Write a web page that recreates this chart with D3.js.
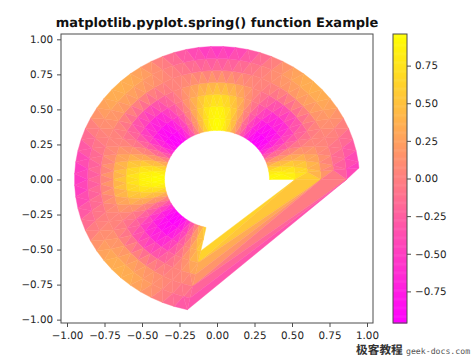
<!DOCTYPE html>
<html>
<head>
<meta charset="utf-8">
<script src="https://cdn.jsdelivr.net/npm/d3@7"></script>
<style>
  html, body { margin: 0; padding: 0; background: #fff; }
  text { font-family: "DejaVu Sans", sans-serif; text-rendering: geometricPrecision; }
</style>
</head>
<body>
<div id="chart"></div>
<script>
// Data: mesh rings
const radii = [0.35, 0.436, 0.521, 0.607, 0.693, 0.779, 0.864, 0.95]
const anglesEven = [0, 5, 10, 15, 20, 25, 30, 35, 40, 45, 50, 55, 60, 65, 70, 75, 80, 85,
  90, 95, 100, 105, 110, 115, 120, 125, 130, 135, 140, 145, 150, 155, 160, 165, 170, 175,
  180, 185, 190, 195, 200, 205, 210, 215, 220, 225, 230, 235, 240, 245, 250, 255, 258]
const anglesOdd = [5, 7.5, 12.5, 17.5, 22.5, 27.5, 32.5, 37.5, 42.5, 47.5, 52.5, 57.5, 62.5, 67.5, 72.5, 77.5, 82.5, 87.5, 92.5,
  97.5, 102.5, 107.5, 112.5, 117.5, 122.5, 127.5, 132.5, 137.5, 142.5, 147.5, 152.5, 157.5, 162.5, 167.5, 172.5, 177.5, 182.5,
  187.5, 192.5, 197.5, 202.5, 207.5, 212.5, 217.5, 222.5, 227.5, 232.5, 237.5, 242.5, 247.5, 252.5, 258]

const ring0 = [.95, .89, .73, .48, .16, -.16, -.48, -.73, -.89, -.95, -.89, -.73, -.48, -.16, .16, .48, .73, .89,
  .95, .89, .73, .48, .16, -.16, -.48, -.73, -.89, -.95, -.89, -.73, -.48, -.16, .16, .48, .73, .89,
  .95, .89, .73, .48, .16, -.16, -.48, -.73, -.89, -.95, -.89, -.73, -.48, -.16, .16, .48, .64]
const ring1 = [.89, .83, .61, .32, 0, -.32, -.61, -.83, -.93, -.93, -.83, -.61, -.32, 0, .32, .61, .83, .93, .93,
  .83, .61, .32, 0, -.32, -.61, -.83, -.93, -.93, -.83, -.61, -.32, 0, .32, .61, .83, .93, .93,
  .83, .61, .32, 0, -.32, -.61, -.83, -.93, -.93, -.83, -.61, -.32, 0, .32, .64]
const ring2 = [.85, .80, .66, .44, .17, -.12, -.39, -.61, -.75, -.80, -.75, -.61, -.39, -.12, .17, .44, .66, .80,
  .85, .80, .66, .44, .17, -.12, -.39, -.61, -.75, -.80, -.75, -.61, -.39, -.12, .17, .44, .66, .80,
  .85, .80, .66, .44, .17, -.12, -.39, -.61, -.75, -.80, -.75, -.61, -.39, -.12, .17, .44, .58]
const ring3 = [.6, .56, .42, .25, .05, -.16, -.35, -.5, -.58, -.58, -.5, -.35, -.16, .05, .25, .42, .56, .62, .62,
  .56, .42, .25, .05, -.16, -.35, -.5, -.58, -.58, -.5, -.35, -.16, .05, .25, .42, .56, .62, .62,
  .56, .42, .25, .05, -.16, -.35, -.5, -.58, -.58, -.5, -.35, -.16, .05, .25, .45]
const ring4 = [.3, .28, .24, .17, .08, -.02, -.12, -.2, -.25, -.27, -.25, -.2, -.12, -.02, .08, .17, .24, .28,
  .3, .28, .24, .17, .08, -.02, -.12, -.2, -.25, -.27, -.25, -.2, -.12, -.02, .08, .17, .24, .28,
  .3, .28, .24, .17, .08, -.02, -.12, -.2, -.25, -.27, -.25, -.2, -.12, -.02, .08, .17, .22]
const ring5 = [-.08, -.07, -.04, -.01, .03, .07, .1, .12, .14, .14, .12, .1, .07, .03, -.01, -.04, -.07, -.08, -.08,
  -.07, -.04, -.01, .03, .07, .1, .12, .14, .14, .12, .1, .07, .03, -.01, -.04, -.07, -.08, -.08,
  -.07, -.04, -.01, .03, .07, .1, .12, .14, .14, .12, .1, .07, .03, -.01, -.03]
const ring6 = [-.35, -.33, -.26, -.16, -.04, .07, .18, .26, .3, .32, .3, .26, .18, .07, -.04, -.16, -.26, -.33,
  -.35, -.33, -.26, -.16, -.04, .07, .18, .26, .3, .32, .3, .26, .18, .07, -.04, -.16, -.26, -.33,
  -.35, -.33, -.26, -.16, -.04, .07, .18, .26, .3, .32, .3, .26, .18, .07, -.04, -.16, -.22]
const ring7 = [-.57, -.53, -.42, -.27, -.1, .07, .22, .33, .39, .39, .33, .22, .07, -.1, -.27, -.42, -.53, -.59, -.59,
  -.53, -.42, -.27, -.1, .07, .22, .33, .39, .39, .33, .22, .07, -.1, -.27, -.42, -.53, -.59, -.59,
  -.53, -.42, -.27, -.1, .07, .22, .33, .39, .39, .33, .22, .07, -.1, -.27, -.43]
const rings = [ring0, ring1, ring2, ring3, ring4, ring5, ring6, ring7]

const minRadius = 0.35
const valueRange = [-0.96, 0.96]
const axisTicks = [-1, -0.75, -0.5, -0.25, 0, 0.25, 0.5, 0.75, 1]
const colorTicks = [-0.75, -0.5, -0.25, 0, 0.25, 0.5, 0.75]

const titleText = "matplotlib.pyplot.spring() function Example"

// Dimensions
const dimensions = { width: 474, height: 358 }
const plot = { left: 61, right: 373, top: 34, bottom: 323 }
const bar = { left: 393, right: 407 }

const svg = d3.select("#chart")
  .append("svg")
  .attr("width", dimensions.width)
  .attr("height", dimensions.height)
  .style("display", "block")

const x = d3.scaleLinear().domain([-1.04, 1.04]).range([plot.left, plot.right])
const y = d3.scaleLinear().domain([-1.024, 1.038]).range([plot.bottom, plot.top])
const colorScale = d3.scaleLinear().domain(valueRange).range(["#ff00ff", "#ffff00"])

// Mesh nodes
const nodes = rings.flatMap((zs, i) => {
  const angles = i % 2 === 0 ? anglesEven : anglesOdd
  return zs.map((z, j) => {
    const a = angles[j] * Math.PI / 180
    return { x: radii[i] * Math.cos(a), y: radii[i] * Math.sin(a), z }
  })
})

const delaunay = d3.Delaunay.from(nodes, d => d.x, d => d.y)
const triangles = []
for (let i = 0; i < delaunay.triangles.length; i += 3) {
  const tri = [delaunay.triangles[i], delaunay.triangles[i + 1], delaunay.triangles[i + 2]].map(k => nodes[k])
  if (Math.hypot(d3.mean(tri, d => d.x), d3.mean(tri, d => d.y)) >= minRadius) triangles.push(tri)
}

const line = d3.line().x(d => x(d.x)).y(d => y(d.y))

svg.append("g")
  .selectAll("path")
  .data(triangles)
  .join("path")
  .attr("d", d => line(d) + "Z")
  .attr("fill", d => colorScale(d3.mean(d, n => n.z)))
  .attr("stroke", d => colorScale(d3.mean(d, n => n.z)))
  .attr("stroke-width", 0.4)

// Frame and axes
const spine = "#4d4d4d"
svg.append("rect")
  .attr("x", plot.left)
  .attr("y", plot.top)
  .attr("width", plot.right - plot.left)
  .attr("height", plot.bottom - plot.top)
  .attr("fill", "none")
  .attr("stroke", spine)

function styleAxis(g) {
  g.select(".domain").remove()
  g.selectAll("line").attr("stroke", spine)
  g.selectAll("text")
    .attr("fill", "#262626")
    .style("font-size", "10.3px")
}

svg.append("g")
  .attr("transform", `translate(0,${plot.bottom})`)
  .call(d3.axisBottom(x).tickValues(axisTicks).tickFormat(d3.format(".2f")).tickSize(4).tickPadding(5))
  .call(styleAxis)

svg.append("g")
  .attr("transform", `translate(${plot.left},0)`)
  .call(d3.axisLeft(y).tickValues(axisTicks).tickFormat(d3.format(".2f")).tickSize(4).tickPadding(4))
  .call(styleAxis)

// Colorbar
const barY = d3.scaleLinear().domain(valueRange).range([plot.bottom, plot.top])
const barLevels = d3.range(0, 257).map(i => valueRange[0] + (valueRange[1] - valueRange[0]) * i / 256)

svg.append("g")
  .selectAll("rect")
  .data(barLevels.slice(0, -1))
  .join("rect")
  .attr("x", bar.left)
  .attr("width", bar.right - bar.left)
  .attr("y", (d, i) => barY(barLevels[i + 1]))
  .attr("height", (d, i) => barY(d) - barY(barLevels[i + 1]) + 0.5)
  .attr("fill", d => colorScale(d))

svg.append("rect")
  .attr("x", bar.left)
  .attr("y", plot.top)
  .attr("width", bar.right - bar.left)
  .attr("height", plot.bottom - plot.top)
  .attr("fill", "none")
  .attr("stroke", spine)

svg.append("g")
  .attr("transform", `translate(${bar.right},0)`)
  .call(d3.axisRight(barY).tickValues(colorTicks).tickFormat(d3.format(".2f")).tickSize(4).tickPadding(4))
  .call(styleAxis)

// Title and watermark
svg.append("text")
  .attr("x", (plot.left + plot.right) / 2)
  .attr("y", 27)
  .attr("text-anchor", "middle")
  .attr("fill", "#111")
  .style("font-size", "13px")
  .style("font-weight", "bold")
  .text(titleText)

svg.append("text")
  .attr("x", 356)
  .attr("y", 354)
  .attr("fill", "#333")
  .style("font-family", '"Noto Sans CJK SC"')
  .style("font-size", "11.7px")
  .style("font-weight", "bold")
  .text("极客教程")

svg.append("text")
  .attr("x", 406)
  .attr("y", 354)
  .attr("fill", "#555")
  .style("font-family", '"DejaVu Sans Mono"')
  .style("font-size", "8.2px")
  .text("geek-docs.com")
</script>
</body>
</html>
